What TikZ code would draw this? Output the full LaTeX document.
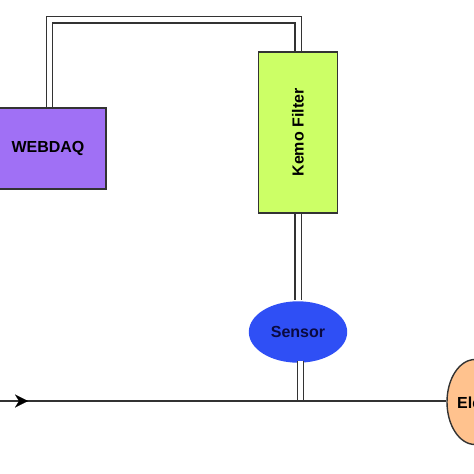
\documentclass[tikz,border=0pt]{standalone}
\usepackage{fontspec}
\setmainfont{Liberation Sans}
\usetikzlibrary{shapes.geometric,arrows.meta,calc}
\definecolor{edge}{HTML}{333333}
\definecolor{daqpurple}{HTML}{A070F5}
\definecolor{kemolime}{HTML}{CCFF66}
\definecolor{sensorblue}{HTML}{2F4FF5}
\definecolor{elpeach}{HTML}{FFC28E}
\tikzset{
  box/.style={draw=edge, line width=1.4pt, inner sep=0pt, font=\bfseries\fontsize{16}{19}\selectfont},
  dbl/.style={draw=edge, line width=1.4pt, double=white, double distance=5pt},
  wire/.style={draw=edge, line width=1.4pt},
}
\begin{document}
\begin{tikzpicture}[x=1pt,y=-1pt]
\useasboundingbox (0,0) rectangle (474,474);
\node[box, rectangle, fill=daqpurple, minimum width=116pt, minimum height=81pt] (webdaq) at (48,148.5) {WEBDAQ};
\node[box, rectangle, fill=kemolime, minimum width=79pt, minimum height=161pt] (kemo) at (298,132.5) {};
\node[font=\bfseries\fontsize{16}{19}\selectfont, rotate=90] (kemotext) at (kemo.center) {Kemo Filter};
\node[box, ellipse, draw=sensorblue, fill=sensorblue, minimum width=97pt, minimum height=60pt] (sensor) at (298,332) {\color[HTML]{0A0A40}Sensor};
\node[box, ellipse, fill=elpeach, minimum width=56pt, minimum height=85pt] (el) at (475,402) {};
\node[font=\bfseries\fontsize{16}{19}\selectfont, anchor=west, inner sep=0pt] (eltext) at (457,403) {Electrode};
\coordinate (in) at (0,401);
\coordinate (arrowtip) at (28,401);
\coordinate (junction) at (300.5,401);
% double cables
\draw[dbl] ([xshift=1.5pt]webdaq.north) |- ($(kemo.north)+(0,-31.5)$) -- (kemo.north);
\draw[dbl] (kemo.south) -- ([yshift=1pt]sensor.north);
\draw[dbl] ([xshift=2.5pt,yshift=2pt]sensor.south) -- ([yshift=-0.7pt]junction);
% main line
\draw[wire] (in) -- (in -| el.west);
\path[-{Stealth[length=13pt,width=13pt,inset=4pt]}, draw=black, line width=0.1pt] ([xshift=-1pt]arrowtip) -- (arrowtip);
\end{tikzpicture}
\end{document}
